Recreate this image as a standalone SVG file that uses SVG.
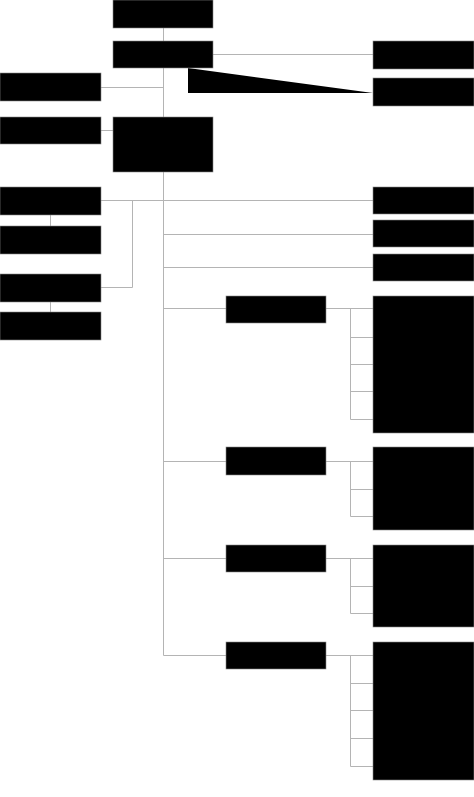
<svg xmlns="http://www.w3.org/2000/svg" width="474" height="797" viewBox="0 0 474 797">
<style>
.n{fill:#000;stroke:#888;stroke-width:0.6}
.c{fill:none;stroke:#b4b4b4;stroke-width:1}
</style>
<rect width="474" height="797" fill="#fff"/>
<g id="connectors">
<path class="c" d="M163.5 28V41M163.5 68V117M163.5 172V655.5H226"/>
<path class="c" d="M213 54.5H373"/>
<path class="c" d="M101 87.5H163.5"/>
<path class="c" d="M101 130.5H113"/>
<path class="c" d="M101 200.5H373"/>
<path class="c" d="M50.5 215V226M50.5 302V312"/>
<path class="c" d="M132.5 200.5V287.5H101"/>
<path class="c" d="M163.5 234.5H373M163.5 267.5H373"/>
<path class="c" d="M163.5 308.5H226M326 308.5H373M350.5 308.5V419.5H373M350.5 337.5H373M350.5 364.5H373M350.5 391.5H373"/>
<path class="c" d="M163.5 461.5H226M326 461.5H373M350.5 461.5V516.5H373M350.5 489.5H373"/>
<path class="c" d="M163.5 558.5H226M326 558.5H373M350.5 558.5V613.5H373M350.5 586.5H373"/>
<path class="c" d="M326 655.5H373M350.5 655.5V766.5H373M350.5 683.5H373M350.5 710.5H373M350.5 738.5H373"/>
<polygon points="188,68 373,93 188,93" fill="#000"/>
</g>
<g id="n-top"><rect class="n" x="113" y="0" width="100" height="28"/></g>
<g id="n-second"><rect class="n" x="113" y="41" width="100" height="27"/></g>
<g id="n-center"><rect class="n" x="113" y="117" width="100" height="55"/></g>
<g id="n-l1"><rect class="n" x="0" y="73" width="101" height="28"/></g>
<g id="n-l2"><rect class="n" x="0" y="117" width="101" height="27"/></g>
<g id="n-l3"><rect class="n" x="0" y="187" width="101" height="28"/></g>
<g id="n-l4"><rect class="n" x="0" y="226" width="101" height="28"/></g>
<g id="n-l5"><rect class="n" x="0" y="274" width="101" height="28"/></g>
<g id="n-l6"><rect class="n" x="0" y="312" width="101" height="28"/></g>
<g id="n-r1"><rect class="n" x="373" y="41" width="101" height="28"/></g>
<g id="n-r2"><rect class="n" x="373" y="78" width="101" height="28"/></g>
<g id="n-r3"><rect class="n" x="373" y="187" width="101" height="27"/></g>
<g id="n-r4"><rect class="n" x="373" y="220" width="101" height="27"/></g>
<g id="n-r5"><rect class="n" x="373" y="254" width="101" height="27"/></g>
<g id="n-m1"><rect class="n" x="226" y="296" width="100" height="27"/></g>
<g id="n-r6"><rect class="n" x="373" y="296" width="101" height="137"/></g>
<g id="n-m2"><rect class="n" x="226" y="447" width="100" height="28"/></g>
<g id="n-r7"><rect class="n" x="373" y="447" width="101" height="83"/></g>
<g id="n-m3"><rect class="n" x="226" y="545" width="100" height="27"/></g>
<g id="n-r8"><rect class="n" x="373" y="545" width="101" height="82"/></g>
<g id="n-m4"><rect class="n" x="226" y="642" width="100" height="27"/></g>
<g id="n-r9"><rect class="n" x="373" y="642" width="101" height="138"/></g>
</svg>
